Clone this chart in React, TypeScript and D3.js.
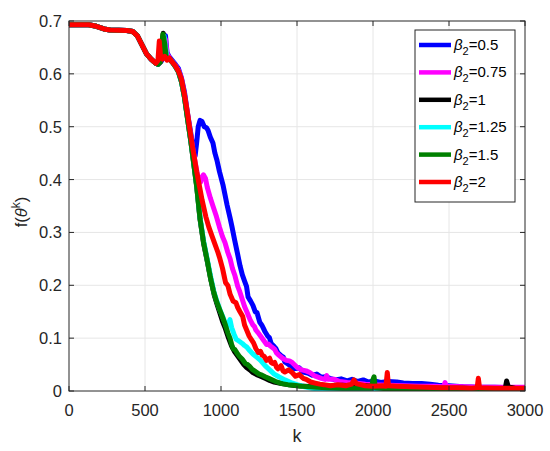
import React, { useEffect, useRef } from 'react';
import * as d3 from 'd3';

type Pt = [number, number];

// shared start of every run (all curves overlap here)
const head: Pt[] = [
  [0, 0.693], [130, 0.693], [180, 0.690], [230, 0.685], [270, 0.683], [380, 0.682],
  [420, 0.680], [450, 0.672], [480, 0.655], [510, 0.638], [540, 0.628], [570, 0.620],
];

const blue: Pt[] = [
  [585, 0.618], [610, 0.625], [625, 0.660], [635, 0.672], [645, 0.640], [660, 0.632], [680, 0.625],
  [700, 0.618], [720, 0.610], [740, 0.592], [760, 0.565], [780, 0.525], [800, 0.490], [816, 0.460],
  [830, 0.445], [840, 0.470], [850, 0.500], [862, 0.512], [875, 0.510], [890, 0.500], [905, 0.498],
  [915, 0.493], [930, 0.480], [947, 0.469], [960, 0.450], [973, 0.437], [990, 0.415], [1013, 0.390],
  [1040, 0.352], [1060, 0.327], [1072, 0.311], [1090, 0.285], [1110, 0.258], [1125, 0.237],
  [1140, 0.220], [1155, 0.208], [1168, 0.198], [1178, 0.178], [1195, 0.170], [1210, 0.162],
  [1225, 0.150], [1237, 0.148], [1255, 0.130], [1270, 0.124], [1280, 0.118], [1290, 0.112],
  [1307, 0.104], [1318, 0.101], [1330, 0.090], [1350, 0.084], [1362, 0.080], [1375, 0.072],
  [1399, 0.066], [1410, 0.064], [1420, 0.055], [1445, 0.050], [1470, 0.046], [1480, 0.042],
  [1498, 0.043], [1514, 0.044], [1540, 0.036], [1570, 0.034], [1600, 0.030], [1630, 0.032],
  [1660, 0.026], [1690, 0.027], [1717, 0.024], [1750, 0.021], [1790, 0.023], [1830, 0.019],
  [1862, 0.022], [1900, 0.018], [1936, 0.021], [1970, 0.017], [2010, 0.019], [2050, 0.016],
  [2100, 0.018], [2156, 0.017], [2200, 0.015], [2260, 0.014], [2320, 0.014], [2375, 0.013],
  [2430, 0.011], [2500, 0.010], [2594, 0.008], [2700, 0.007], [2800, 0.007], [2900, 0.006], [3000, 0.006],
];

const magenta: Pt[] = [
  [585, 0.618], [605, 0.625], [625, 0.655], [635, 0.665], [645, 0.638], [660, 0.630], [680, 0.623],
  [700, 0.616], [720, 0.607], [740, 0.590], [760, 0.560], [780, 0.522], [800, 0.485], [816, 0.455],
  [835, 0.425], [850, 0.402], [865, 0.395], [875, 0.405], [885, 0.409], [898, 0.402], [910, 0.385],
  [930, 0.365], [947, 0.350], [970, 0.330], [990, 0.310], [1010, 0.292], [1026, 0.281], [1045, 0.262],
  [1060, 0.250], [1075, 0.232], [1092, 0.218], [1110, 0.198], [1121, 0.190], [1138, 0.175],
  [1155, 0.160], [1170, 0.150], [1191, 0.135], [1210, 0.125], [1220, 0.122], [1230, 0.115],
  [1245, 0.110], [1260, 0.104], [1280, 0.096], [1300, 0.088], [1312, 0.089], [1325, 0.085],
  [1353, 0.079], [1365, 0.072], [1380, 0.068], [1405, 0.062], [1430, 0.058], [1450, 0.057],
  [1468, 0.054], [1500, 0.045], [1530, 0.040], [1560, 0.038], [1584, 0.035], [1620, 0.028],
  [1660, 0.024], [1685, 0.022], [1695, 0.029], [1705, 0.022], [1747, 0.022], [1780, 0.018],
  [1830, 0.016], [1880, 0.015], [1950, 0.013], [2000, 0.012], [2100, 0.011], [2200, 0.010],
  [2300, 0.009], [2400, 0.009], [2465, 0.008], [2474, 0.016], [2483, 0.009], [2600, 0.008],
  [2700, 0.007], [2800, 0.007], [2900, 0.007], [3000, 0.007],
];

const black: Pt[] = [
  [585, 0.618], [600, 0.622], [612, 0.660], [620, 0.677], [630, 0.655], [640, 0.630], [660, 0.628],
  [680, 0.622], [700, 0.614], [720, 0.604], [740, 0.585], [760, 0.555], [780, 0.515], [800, 0.475],
  [816, 0.440], [840, 0.388], [862, 0.325], [885, 0.280], [910, 0.245], [935, 0.208], [955, 0.182],
  [973, 0.165], [990, 0.150], [1010, 0.132], [1029, 0.118], [1050, 0.100], [1070, 0.085],
  [1090, 0.074], [1110, 0.066], [1130, 0.058], [1150, 0.050], [1170, 0.044], [1190, 0.040],
  [1210, 0.035], [1235, 0.031], [1260, 0.028], [1290, 0.024], [1320, 0.020], [1350, 0.017],
  [1399, 0.014], [1450, 0.012], [1500, 0.010], [1550, 0.009], [1600, 0.008], [1650, 0.008],
  [1700, 0.009], [1750, 0.010], [1800, 0.011], [1850, 0.010], [1900, 0.011], [1950, 0.010],
  [2000, 0.009], [2100, 0.008], [2200, 0.007], [2300, 0.006], [2400, 0.005], [2500, 0.005],
  [2600, 0.005], [2700, 0.004], [2800, 0.004], [2870, 0.005], [2879, 0.019], [2890, 0.008],
  [2950, 0.004], [3000, 0.003],
];

const cyan: Pt[] = [
  [585, 0.618], [602, 0.625], [615, 0.662], [625, 0.672], [635, 0.650], [645, 0.630], [660, 0.628],
  [680, 0.622], [700, 0.614], [720, 0.604], [740, 0.585], [760, 0.555], [780, 0.517], [800, 0.478],
  [816, 0.443], [840, 0.390], [862, 0.328], [885, 0.285], [910, 0.248], [935, 0.212], [955, 0.186],
  [975, 0.168], [995, 0.152], [1015, 0.138], [1035, 0.122], [1050, 0.128], [1059, 0.135],
  [1070, 0.120], [1085, 0.108], [1100, 0.098], [1120, 0.094], [1140, 0.090], [1155, 0.086],
  [1170, 0.083], [1190, 0.076], [1210, 0.070], [1235, 0.064], [1260, 0.058], [1290, 0.048],
  [1320, 0.040], [1350, 0.032], [1380, 0.027], [1420, 0.021], [1460, 0.016], [1500, 0.012],
  [1550, 0.008], [1600, 0.005], [1700, 0.003], [1800, 0.002], [2000, 0.002], [2200, 0.001],
  [2500, 0.001], [2800, 0.001], [3000, 0.001],
];

const green: Pt[] = [
  [585, 0.618], [600, 0.622], [610, 0.655], [618, 0.675], [628, 0.660], [640, 0.632], [660, 0.628],
  [680, 0.622], [700, 0.614], [720, 0.604], [740, 0.585], [760, 0.555], [780, 0.515], [800, 0.476],
  [816, 0.441], [840, 0.386], [862, 0.326], [885, 0.282], [910, 0.246], [930, 0.215], [950, 0.190],
  [970, 0.170], [990, 0.155], [1010, 0.140], [1029, 0.125], [1045, 0.110], [1059, 0.100],
  [1070, 0.088], [1080, 0.080], [1092, 0.078], [1105, 0.072], [1120, 0.066], [1140, 0.060],
  [1160, 0.052], [1175, 0.050], [1190, 0.046], [1205, 0.041], [1220, 0.038], [1250, 0.032],
  [1270, 0.030], [1290, 0.027], [1322, 0.023], [1360, 0.018], [1399, 0.014], [1440, 0.012],
  [1480, 0.011], [1530, 0.009], [1580, 0.008], [1630, 0.007], [1700, 0.006], [1800, 0.005],
  [1900, 0.005], [1990, 0.005], [2000, 0.022], [2007, 0.027], [2015, 0.006], [2100, 0.004],
  [2200, 0.004], [2300, 0.003], [2400, 0.003], [2500, 0.003], [2600, 0.003], [2700, 0.002],
  [2800, 0.002], [2900, 0.002], [3000, 0.002],
];

const red: Pt[] = [
  [585, 0.625], [594, 0.662], [602, 0.635], [615, 0.628], [630, 0.633], [645, 0.626], [660, 0.630],
  [680, 0.622], [700, 0.615], [720, 0.605], [740, 0.590], [760, 0.560], [780, 0.525], [800, 0.485],
  [816, 0.456], [840, 0.415], [860, 0.385], [875, 0.362], [900, 0.330], [920, 0.310], [941, 0.293],
  [960, 0.278], [980, 0.262], [993, 0.250], [1010, 0.232], [1030, 0.205], [1046, 0.199],
  [1060, 0.183], [1080, 0.170], [1098, 0.167], [1110, 0.158], [1125, 0.150], [1143, 0.141],
  [1155, 0.125], [1168, 0.116], [1185, 0.104], [1200, 0.097], [1214, 0.091], [1230, 0.080],
  [1245, 0.073], [1260, 0.075], [1270, 0.068], [1283, 0.066], [1300, 0.058], [1320, 0.062],
  [1330, 0.054], [1340, 0.052], [1353, 0.054], [1365, 0.045], [1375, 0.042], [1395, 0.048],
  [1408, 0.038], [1420, 0.036], [1445, 0.040], [1468, 0.035], [1490, 0.028], [1515, 0.031],
  [1540, 0.024], [1561, 0.022], [1590, 0.017], [1620, 0.015], [1650, 0.013], [1677, 0.012],
  [1720, 0.010], [1770, 0.012], [1820, 0.010], [1860, 0.013], [1875, 0.021], [1890, 0.014],
  [1950, 0.010], [2000, 0.009], [2060, 0.010], [2085, 0.009], [2094, 0.035], [2102, 0.010],
  [2160, 0.009], [2250, 0.008], [2350, 0.007], [2450, 0.006], [2550, 0.006], [2650, 0.005],
  [2685, 0.006], [2693, 0.024], [2701, 0.006], [2800, 0.005], [2900, 0.005], [3000, 0.005],
];

const betaLabels = ['0.5', '0.75', '1', '1.25', '1.5', '2'];
const seriesColors = ['#0000ff', '#ff00ff', '#000000', '#00ffff', '#008000', '#ff0000'];
const seriesTails = [blue, magenta, black, cyan, green, red];
const xTicks = [0, 500, 1000, 1500, 2000, 2500, 3000];
const yTicks = [0, 0.1, 0.2, 0.3, 0.4, 0.5, 0.6, 0.7];

const App: React.FC = () => {
  const svgRef = useRef<SVGSVGElement>(null);

  useEffect(() => {
    if (!svgRef.current) return;
    const svg = d3.select(svgRef.current);
    svg.selectAll('*').remove();

    const left = 69, right = 525, top = 21, bottom = 391;
    const font = 'Liberation Sans, Arial, sans-serif';
    const axisColor = '#262626';

    const x = d3.scaleLinear().domain([0, 3000]).range([left, right]);
    const y = d3.scaleLinear().domain([0, 0.7]).range([bottom, top]);

    svg.append('rect').attr('width', 550).attr('height', 451).attr('fill', '#fff');

    // grid
    const grid = svg.append('g').attr('stroke', '#e6e6e6').attr('stroke-width', 1);
    xTicks.slice(1, -1).forEach(t => {
      grid.append('line').attr('x1', x(t)).attr('x2', x(t)).attr('y1', top).attr('y2', bottom);
    });
    yTicks.slice(1, -1).forEach(t => {
      grid.append('line').attr('x1', left).attr('x2', right).attr('y1', y(t)).attr('y2', y(t));
    });

    svg.append('clipPath').attr('id', 'plotclip')
      .append('rect').attr('x', left).attr('y', top - 3).attr('width', right - left).attr('height', bottom - top + 3);

    const line = d3.line<Pt>().x(d => x(d[0])).y(d => y(d[1]));
    const lines = svg.append('g').attr('clip-path', 'url(#plotclip)');
    seriesTails.forEach((tail, i) => {
      lines.append('path')
        .attr('d', line(head.concat(tail)) || '')
        .attr('fill', 'none')
        .attr('stroke', seriesColors[i])
        .attr('stroke-width', 5)
        .attr('stroke-linejoin', 'round')
        .attr('stroke-linecap', 'round');
    });

    // box and ticks
    const ax = svg.append('g').attr('stroke', axisColor).attr('stroke-width', 1).attr('fill', 'none');
    ax.append('rect').attr('x', left).attr('y', top).attr('width', right - left).attr('height', bottom - top);
    const tl = 5;
    xTicks.forEach(t => {
      ax.append('line').attr('x1', x(t)).attr('x2', x(t)).attr('y1', bottom).attr('y2', bottom - tl);
      ax.append('line').attr('x1', x(t)).attr('x2', x(t)).attr('y1', top).attr('y2', top + tl);
    });
    yTicks.forEach(t => {
      ax.append('line').attr('x1', left).attr('x2', left + tl).attr('y1', y(t)).attr('y2', y(t));
      ax.append('line').attr('x1', right).attr('x2', right - tl).attr('y1', y(t)).attr('y2', y(t));
    });

    const labels = svg.append('g').attr('font-family', font).attr('fill', axisColor).attr('font-size', 16.5);
    xTicks.forEach(t => {
      labels.append('text').attr('x', x(t)).attr('y', bottom + 25).attr('text-anchor', 'middle').text(String(t));
    });
    yTicks.forEach(t => {
      labels.append('text').attr('x', left - 7).attr('y', y(t) + 6).attr('text-anchor', 'end')
        .text(t === 0 ? '0' : d3.format('.1f')(t));
    });

    labels.append('text').attr('x', (left + right) / 2).attr('y', 442).attr('text-anchor', 'middle')
      .attr('font-size', 18).text('k');

    const yl = labels.append('text').attr('transform', 'translate(27,212) rotate(-90)')
      .attr('text-anchor', 'middle').attr('font-size', 16.5);
    yl.append('tspan').text('f(');
    yl.append('tspan').attr('font-style', 'italic').text('θ');
    yl.append('tspan').attr('font-size', 12).attr('dy', -7).text('k');
    yl.append('tspan').attr('dy', 7).text(')');

    // legend
    const lg = svg.append('g');
    lg.append('rect').attr('x', 415).attr('y', 30).attr('width', 100).attr('height', 172)
      .attr('fill', '#fff').attr('stroke', axisColor).attr('stroke-width', 1);
    betaLabels.forEach((b, i) => {
      const ly = 45 + i * 27.4;
      lg.append('line').attr('x1', 419).attr('x2', 451).attr('y1', ly).attr('y2', ly)
        .attr('stroke', seriesColors[i]).attr('stroke-width', 4.5);
      const t = lg.append('text').attr('x', 454).attr('y', ly + 5).attr('font-family', font)
        .attr('font-size', 15).attr('fill', '#000');
      t.append('tspan').attr('font-style', 'italic').text('β');
      t.append('tspan').attr('font-size', 11).attr('dy', 5).text('2');
      t.append('tspan').attr('dy', -5).text('=' + b);
    });
  }, []);

  return (
    <svg ref={svgRef} width={550} height={451} style={{ position: 'absolute', left: 0, top: 0 }} />
  );
};

export default App;
